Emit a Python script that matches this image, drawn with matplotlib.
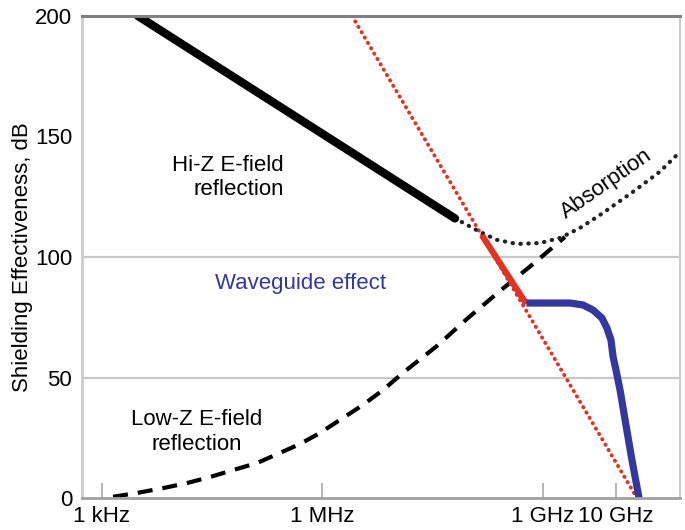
import numpy as np
import matplotlib.pyplot as plt

plt.rcParams['font.family'] = ['Liberation Sans', 'DejaVu Sans']
plt.rcParams['font.size'] = 16

# frequency in Hz, shielding effectiveness in dB
hiz_f = [3.1e3, 6.4e7]
hiz_db = [200, 116]

lowz_f = [1.42e3, 3.0e3, 6.8e3, 1.44e4, 2.96e4, 6.1e4, 1.29e5, 2.65e5,
          4.97e5, 9.3e5, 1.74e6, 3.57e6, 6.7e6, 1.25e7, 3.64e7, 9.3e7,
          2.62e8, 7.4e8, 2.01e9]
lowz_db = [0.5, 2.1, 4.1, 6.2, 8.7, 11.6, 14.5, 18.7,
           22.4, 27.0, 32.4, 38.6, 44.8, 51.9, 63.1, 74.3,
           85.9, 97.1, 108.3]

absorb_f = [6.4e7, 7.5e7, 1.32e8, 2.39e8, 4.47e8, 9.2e8, 1.72e9, 3.2e9,
            6.0e9, 1.03e10, 1.69e10, 3.9e10, 7.4e10]
absorb_db = [116.2, 114.9, 110.8, 107.1, 105.4, 105.8, 107.9, 112.0,
             117.4, 122.4, 127.0, 135.3, 143.6]

cutoff_f = [2.54e6, 1.92e10]
cutoff_db = [200, 0]

red_f = [1.49e8, 6.0e8]
red_db = [109, 80.5]

wg_f = [6.0e8, 2.36e9, 3.54e9, 4.84e9, 6.4e9, 7.5e9, 8.5e9, 9.1e9,
        9.95e9, 1.13e10, 1.36e10, 1.64e10, 2.05e10]
wg_db = [80.9, 80.9, 80.1, 78.0, 74.7, 70.5, 65.6, 58.5,
         53.1, 44.8, 30.3, 15.8, 0]

xticks = [1e3, 1e6, 1e9, 1e10]
xlabels = ['1 kHz', '1 MHz', '1 GHz', '10 GHz']
yticks = [0, 50, 100, 150, 200]
grid_db = [50, 100]

blue = '#34389c'
red = '#e03322'

fig = plt.figure(figsize=(6.85, 5.3), dpi=100)
ax = fig.add_axes([82/685, 32/530, 598/685, 482/530])

for g in grid_db:
    ax.axhline(g, color='#c8c8c8', lw=1.6, zorder=0)

ax.plot(lowz_f, lowz_db, color='black', lw=3, ls=(0, (3.6, 2.4)))
ax.plot(cutoff_f, cutoff_db, color=red, lw=2.8, ls=(0, (0.1, 1.5)),
        dash_capstyle='round')
ax.plot(absorb_f, absorb_db, color='#222222', lw=3, ls=(0, (0.1, 1.8)),
        dash_capstyle='round')
ax.plot(hiz_f, hiz_db, color='black', lw=6, solid_capstyle='round')
ax.plot(red_f, red_db, color=red, lw=4.5, solid_capstyle='butt')
ax.plot(wg_f, wg_db, color=blue, lw=5.2, solid_joinstyle='round',
        solid_capstyle='butt')

ax.text(3.0e5, 133, 'Hi-Z E-field\nreflection', ha='right', va='center',
        multialignment='right')
ax.text(5.1e5, 88.8, 'Waveguide effect', ha='center', va='center', color=blue)
ax.text(1.97e4, 27.4, 'Low-Z E-field\nreflection', ha='center', va='center',
        multialignment='center')
ax.text(7.3e9, 130.3, 'Absorption', ha='center', va='center', rotation=35,
        rotation_mode='anchor')

ax.set_xscale('log')
ax.set_xlim(536, 7.4e10)
ax.set_ylim(0, 200)
ax.set_xticks(xticks)
ax.set_xticklabels(xlabels)
ax.minorticks_off()
ax.set_yticks(yticks)
ax.tick_params(axis='x', direction='in', length=11, width=1.3,
               color='#b0b0b0', pad=6)
ax.tick_params(axis='y', length=0, pad=7)

ax.set_ylabel('Shielding Effectiveness, dB')
ax.yaxis.set_label_coords(-0.082, 0.5)

ax.spines['top'].set_color('#808080')
ax.spines['top'].set_linewidth(2.2)
ax.spines['bottom'].set_color('#a0a0a0')
ax.spines['bottom'].set_linewidth(2)
ax.spines['left'].set_color('#cccccc')
ax.spines['left'].set_linewidth(2)
ax.spines['right'].set_color('#cccccc')
ax.spines['right'].set_linewidth(1.5)

fig.savefig('out.png', dpi=100)
